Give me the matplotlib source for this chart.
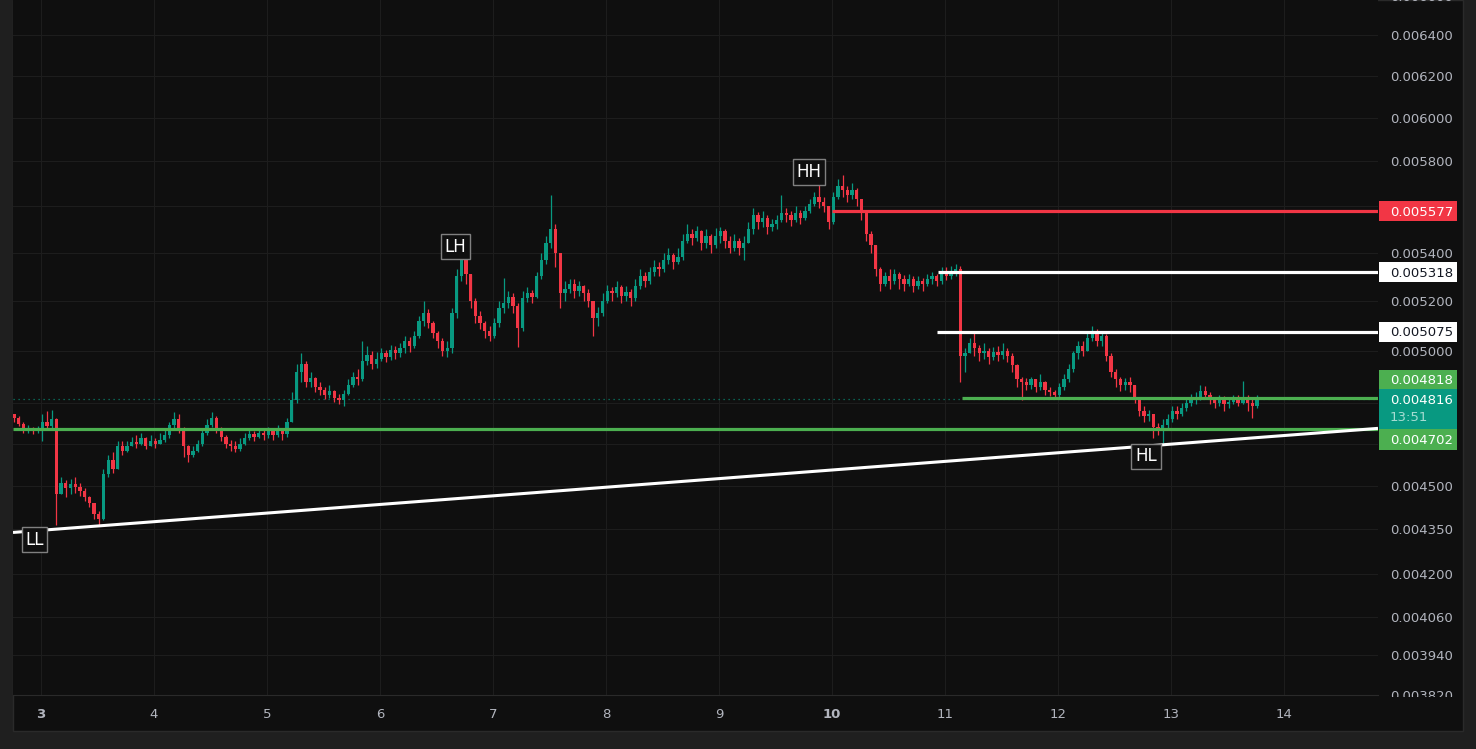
import matplotlib
matplotlib.use("Agg")
import matplotlib.pyplot as plt
from matplotlib import transforms
from matplotlib.patches import Rectangle
from matplotlib.ticker import NullLocator, FixedLocator

plt.rcParams['font.family'] = ['DejaVu Sans']

# ---------------- data (prices in units of 1e-6) ----------------
SCALE = 1e-6
FIRST_OPEN = 4760
CLOSE = [
    4745, 4722, 4700, 4708, 4695, 4705, 4730, 4715, 4740, 4470,
    4510, 4490, 4505, 4495, 4480, 4460, 4440, 4400, 4385, 4540,
    4590, 4560, 4640, 4625, 4640, 4655, 4650, 4670, 4640, 4660,
    4650, 4665, 4680, 4720, 4740, 4705, 4640, 4610, 4625, 4650,
    4690, 4720, 4745, 4700, 4675, 4650, 4640, 4630, 4650, 4670,
    4685, 4675, 4690, 4680, 4695, 4680, 4700, 4685, 4730, 4810,
    4920, 4950, 4880, 4895, 4860, 4850, 4830, 4845, 4820, 4810,
    4835, 4870, 4900, 4890, 4960, 4985, 4950, 4970, 4990, 4975,
    5005, 4990, 5010, 5040, 5020, 5060, 5120, 5150, 5110, 5070,
    5040, 5000, 5010, 5150, 5300, 5380, 5310, 5200, 5140, 5110,
    5080, 5060, 5110, 5170, 5190, 5215, 5180, 5090, 5210, 5230,
    5215, 5300, 5370, 5440, 5500, 5400, 5230, 5250, 5270, 5240,
    5260, 5230, 5200, 5130, 5150, 5200, 5240, 5230, 5255, 5220,
    5235, 5210, 5260, 5300, 5280, 5320, 5340, 5330, 5370, 5390,
    5360, 5380, 5450, 5480, 5460, 5490, 5440, 5470, 5430, 5470,
    5490, 5450, 5420, 5450, 5420, 5440, 5500, 5560, 5530, 5550,
    5510, 5520, 5540, 5570, 5560, 5540, 5570, 5550, 5580, 5610,
    5640, 5620, 5600, 5530, 5640, 5690, 5670, 5650, 5670, 5630,
    5570, 5480, 5430, 5330, 5270, 5300, 5280, 5310, 5290, 5270,
    5290, 5260, 5280, 5270, 5290, 5300, 5280, 5320, 5300, 5320,
    5330, 4980, 4990, 5030, 5010, 4990, 5000, 4975, 4995, 4985,
    5000, 4980, 4945, 4890, 4880, 4870, 4890, 4860, 4880, 4850,
    4840, 4830, 4860, 4890, 4930, 4990, 5020, 5000, 5050, 5070,
    5040, 5060, 4980, 4920, 4890, 4870, 4880, 4870, 4820, 4770,
    4750, 4760, 4710, 4700, 4720, 4740, 4770, 4760, 4780, 4800,
    4810, 4820, 4845, 4830, 4810, 4800, 4815, 4795, 4805, 4815,
    4800, 4820, 4800, 4790, 4816,
]
HIGH = [
    4760, 4750, 4728, 4718, 4712, 4715, 4760, 4770, 4775, 4745,
    4530, 4520, 4525, 4530, 4510, 4490, 4465, 4440, 4410, 4560,
    4610, 4620, 4660, 4660, 4660, 4675, 4680, 4690, 4675, 4680,
    4670, 4690, 4700, 4730, 4765, 4760, 4710, 4645, 4640, 4665,
    4700, 4740, 4765, 4750, 4710, 4680, 4665, 4660, 4670, 4690,
    4700, 4695, 4705, 4700, 4710, 4705, 4720, 4705, 4745, 4840,
    4950, 4990, 4960, 4920, 4900, 4880, 4860, 4870, 4850, 4835,
    4850, 4890, 4920, 4930, 5040, 5020, 5000, 4995, 5010, 5005,
    5025, 5020, 5030, 5060, 5055, 5080, 5140, 5200, 5165, 5120,
    5080, 5050, 5040, 5170, 5330, 5410, 5405, 5290, 5210, 5160,
    5120, 5100, 5130, 5200, 5295, 5240, 5230, 5190, 5240, 5255,
    5245, 5320, 5400, 5470, 5650, 5520, 5400, 5280, 5290, 5290,
    5280, 5265, 5250, 5200, 5175, 5230, 5265, 5255, 5280, 5265,
    5260, 5250, 5290, 5330, 5320, 5340, 5370, 5360, 5400, 5420,
    5400, 5420, 5480, 5520, 5500, 5515, 5495, 5500, 5480, 5505,
    5510, 5500, 5470, 5480, 5460, 5470, 5530, 5590, 5575, 5580,
    5560, 5545, 5560, 5650, 5590, 5580, 5600, 5585, 5600, 5630,
    5660, 5700, 5640, 5600, 5660, 5720, 5740, 5690, 5700, 5680,
    5630, 5570, 5490, 5420, 5340, 5320, 5330, 5330, 5320, 5305,
    5310, 5300, 5300, 5295, 5310, 5320, 5310, 5340, 5340, 5345,
    5350, 5345, 5010, 5050, 5070, 5025, 5030, 5010, 5015, 5020,
    5030, 5010, 4990, 4950, 4900, 4895, 4900, 4890, 4910, 4885,
    4860, 4850, 4875, 4910, 4950, 5000, 5040, 5040, 5075, 5100,
    5085, 5080, 5065, 4990, 4930, 4900, 4895, 4900, 4870, 4820,
    4790, 4775, 4760, 4725, 4740, 4760, 4790, 4790, 4800, 4820,
    4835, 4840, 4870, 4865, 4840, 4820, 4830, 4825, 4820, 4830,
    4830, 4885, 4830, 4820, 4830,
]
LOW = [
    4730, 4715, 4690, 4688, 4685, 4690, 4660, 4700, 4705, 4365,
    4470, 4460, 4470, 4475, 4465, 4445, 4425, 4385, 4362, 4380,
    4530, 4545, 4560, 4610, 4620, 4640, 4635, 4645, 4630, 4640,
    4635, 4650, 4655, 4670, 4700, 4690, 4600, 4585, 4600, 4620,
    4640, 4680, 4710, 4690, 4660, 4635, 4625, 4620, 4625, 4645,
    4665, 4660, 4670, 4665, 4670, 4665, 4675, 4665, 4675, 4740,
    4800, 4880, 4860, 4860, 4840, 4830, 4815, 4820, 4805, 4795,
    4790, 4830, 4860, 4870, 4885, 4945, 4930, 4935, 4960, 4955,
    4965, 4970, 4975, 4990, 4995, 5010, 5050, 5100, 5090, 5050,
    5010, 4980, 4975, 4990, 5130, 5280, 5270, 5170, 5110, 5085,
    5050, 5040, 5050, 5095, 5150, 5170, 5150, 5015, 5080, 5195,
    5190, 5210, 5290, 5350, 5420, 5340, 5170, 5200, 5230, 5210,
    5220, 5200, 5175, 5060, 5100, 5140, 5190, 5200, 5215, 5190,
    5200, 5180, 5200, 5250, 5255, 5270, 5300, 5300, 5320, 5350,
    5330, 5350, 5370, 5440, 5430, 5450, 5410, 5420, 5400, 5420,
    5440, 5420, 5400, 5405, 5390, 5370, 5440, 5480, 5500, 5510,
    5480, 5490, 5500, 5530, 5530, 5515, 5530, 5520, 5540, 5570,
    5600, 5590, 5575, 5500, 5520, 5630, 5640, 5620, 5630, 5600,
    5540, 5450, 5400, 5300, 5240, 5260, 5250, 5270, 5250, 5240,
    5260, 5235, 5250, 5240, 5260, 5270, 5260, 5270, 5285, 5290,
    5300, 4880, 4920, 4990, 4980, 4960, 4970, 4950, 4965, 4960,
    4970, 4955, 4920, 4860, 4810, 4850, 4855, 4840, 4850, 4830,
    4825, 4815, 4818, 4850, 4880, 4920, 4970, 4980, 5000, 5040,
    5020, 5020, 4960, 4900, 4860, 4845, 4850, 4840, 4800, 4750,
    4730, 4735, 4670, 4680, 4652, 4705, 4730, 4740, 4750, 4770,
    4790, 4795, 4810, 4815, 4795, 4780, 4790, 4770, 4780, 4795,
    4790, 4795, 4770, 4745, 4780,
]
START_DAY = 2.761          # time of first (hourly) candle, in days
BAR_STEP = 1.0 / 24.0

DAY_TICKS = [3, 4, 5, 6, 7, 8, 9, 10, 11, 12, 13, 14]
BOLD_DAYS = [3, 10]
# horizontal grid prices (some labels are hidden behind the level boxes)
GRID_PRICES = [0.0066, 0.0064, 0.0062, 0.0060, 0.0058, 0.0056, 0.0054, 0.0052,
               0.0050, 0.0048, 0.00465, 0.0045, 0.00435, 0.0042, 0.00406,
               0.00394, 0.00382]
PRICE_TICKS = [0.0066, 0.0064, 0.0062, 0.0060, 0.0058, 0.0054, 0.0052,
               0.0050, 0.0045, 0.00435, 0.0042, 0.00406, 0.00394, 0.00382]
PRICE_TICK_LABELS = ["0.006600", "0.006400", "0.006200", "0.006000", "0.005800",
                     "0.005400", "0.005200", "0.005000", "0.004500", "0.004350",
                     "0.004200", "0.004060", "0.003940", "0.003820"]

RED_LEVEL = 0.005577
RED_LEVEL_START = 10.0
WHITE_LEVELS = [0.005318, 0.005075]
WHITE_LEVEL_STARTS = [10.94, 10.93]
GREEN_HI_LEVEL = 0.004818
GREEN_HI_START = 11.15
GREEN_LO_LEVEL = 0.004702
TREND_DAYS = [2.752, 14.832]
TREND_PRICES = [0.004338, 0.004706]
LAST_PRICE = 0.004816
COUNTDOWN = "13:51"

SWING_LABELS = ["LL", "LH", "HH", "HL"]
SWING_DAYS = [2.942, 6.664, 9.796, 12.779]
SWING_PRICES = [0.004314, 0.005425, 0.005752, 0.004604]

XLIM = (2.752, 14.832)
YLIM = (0.0038199, 0.0065798)

# ---------------- styling ----------------
W, H = 1476, 749
BG = "#0f0f0f"
OUTER = "#1f1f1f"
GRID = "#1d1d1d"
TEXT = "#b2b5be"
UP = "#089981"
DOWN = "#f23645"
GREEN = "#4caf50"

fig = plt.figure(figsize=(W / 100, H / 100), dpi=100)
fig.patch.set_facecolor(OUTER)

# main panel background
panel = Rectangle((13 / W, (H - 731) / H), (1463 - 13) / W, 731 / H,
                  transform=fig.transFigure, facecolor=BG, edgecolor="#2a2a2a",
                  lw=1.0, zorder=-5)
fig.add_artist(panel)

ax = fig.add_axes([13 / W, (H - 695) / H, (1378 - 13) / W, 695 / H])
ax.set_zorder(0)
ax.set_facecolor(BG)
ax.set_yscale("log")
ax.set_xlim(*XLIM)
ax.set_ylim(*YLIM)
ax.yaxis.set_major_locator(FixedLocator(GRID_PRICES))
ax.yaxis.set_minor_locator(NullLocator())
ax.xaxis.set_major_locator(FixedLocator(DAY_TICKS))
ax.xaxis.set_minor_locator(NullLocator())
ax.tick_params(left=False, bottom=False, labelleft=False, labelbottom=False)
ax.grid(True, color=GRID, lw=0.8)
ax.set_axisbelow(True)
for s in ["top", "left", "right"]:
    ax.spines[s].set_visible(False)
ax.spines["bottom"].set_color("#2a2a2a")
ax.spines["bottom"].set_linewidth(0.8)

# ---------------- candles ----------------
n = len(CLOSE)
times = [START_DAY + i * BAR_STEP for i in range(n)]
opens = [FIRST_OPEN] + CLOSE[:-1]
body_w = 0.7 * BAR_STEP
min_body = 3.5
for t, o, c, h, l in zip(times, opens, CLOSE, HIGH, LOW):
    col = UP if c >= o else DOWN
    hi = max(h, o, c) * SCALE
    lo = min(l, o, c) * SCALE
    ax.vlines(t, lo, hi, color=col, lw=0.9, zorder=3)
    b0, b1 = min(o, c), max(o, c)
    if b1 - b0 < min_body:
        mid = (b0 + b1) / 2
        b0, b1 = mid - min_body / 2, mid + min_body / 2
    ax.bar(t, (b1 - b0) * SCALE, bottom=b0 * SCALE, width=body_w,
           color=col, lw=0, zorder=3)

# ---------------- drawn levels ----------------
ax.axhline(LAST_PRICE, color=UP, lw=0.9, ls=(0, (1, 3)), alpha=0.8, zorder=2)
ax.hlines(RED_LEVEL, RED_LEVEL_START, XLIM[1], color=DOWN, lw=2.3, zorder=5)
for lv, st in zip(WHITE_LEVELS, WHITE_LEVEL_STARTS):
    ax.hlines(lv, st, XLIM[1], color="white", lw=2.3, zorder=5)
ax.hlines(GREEN_HI_LEVEL, GREEN_HI_START, XLIM[1], color=GREEN, lw=2.3, zorder=5)
ax.hlines(GREEN_LO_LEVEL, XLIM[0], XLIM[1], color=GREEN, lw=2.3, zorder=5)
ax.plot(TREND_DAYS, TREND_PRICES, color="white", lw=2.2, zorder=6,
        solid_capstyle="butt")

for lab, d, p in zip(SWING_LABELS, SWING_DAYS, SWING_PRICES):
    ax.text(d, p, lab, color="white", fontsize=12, ha="center", va="center",
            zorder=8,
            bbox=dict(boxstyle="square,pad=0.22", facecolor=BG,
                      edgecolor="#808080", lw=1.0))

# ---------------- x labels ----------------
xlab_tr = transforms.blended_transform_factory(ax.transData, fig.transFigure)
for d in DAY_TICKS:
    fig.text(d, (H - 714) / H, str(d), transform=xlab_tr, ha="center",
             va="center", color=TEXT, fontsize=9.5, zorder=1,
             fontweight="bold" if d in BOLD_DAYS else "normal")

# ---------------- price axis labels ----------------
ylab_tr = transforms.offset_copy(
    transforms.blended_transform_factory(fig.transFigure, ax.transData),
    fig=fig, x=0, y=-1.5, units="dots")
for p, lab in zip(PRICE_TICKS, PRICE_TICK_LABELS):
    fig.text(1390 / W, p, lab, transform=ylab_tr, ha="left", va="center",
             color=TEXT, fontsize=9.5, zorder=1)

# mask: price-axis labels are cut at the bottom of the chart pane
mask = Rectangle((1378 / W, (H - 730) / H), (1462 - 1378) / W, (730 - 697) / H,
                 transform=fig.transFigure, facecolor=BG, edgecolor="none",
                 zorder=2)
fig.add_artist(mask)


def ypix(price):
    """display y (pixels from bottom) of a price on the chart"""
    return ax.transData.transform((XLIM[0], price))[1]


BX0, BX1 = 1379, 1457


def price_box(y_center, height, face, label, txtcol, sub=None):
    y0 = y_center - height / 2
    r = Rectangle((BX0 / W, y0 / H), (BX1 - BX0) / W, height / H,
                  transform=fig.transFigure, facecolor=face, edgecolor="none",
                  zorder=20)
    fig.add_artist(r)
    if sub is None:
        fig.text(1390 / W, (y_center - 1) / H, label, ha="left", va="center",
                 color=txtcol, fontsize=9.5, zorder=21)
    else:
        fig.text(1390 / W, (y_center + 8) / H, label, ha="left", va="center",
                 color=txtcol, fontsize=9.5, zorder=21)
        fig.text(1390 / W, (y_center - 9) / H, sub, ha="left", va="center",
                 color="#a6dcd2", fontsize=9.5, zorder=21)


price_box(ypix(RED_LEVEL), 20, DOWN, f"{RED_LEVEL:.6f}", "white")
for lv in WHITE_LEVELS:
    price_box(ypix(lv), 20, "white", f"{lv:.6f}", "#131722")

y_last = ypix(LAST_PRICE)
teal_top = y_last + 10
teal_bot = y_last - 30
price_box((teal_top + teal_bot) / 2, teal_top - teal_bot, UP,
          f"{LAST_PRICE:.6f}", "white", sub=COUNTDOWN)
price_box(teal_top + 9.5, 19, GREEN, f"{GREEN_HI_LEVEL:.6f}", "white")
price_box(teal_bot - 10.5, 21, GREEN, f"{GREEN_LO_LEVEL:.6f}", "white")

fig.savefig("out.png", dpi=100, facecolor=fig.get_facecolor())
